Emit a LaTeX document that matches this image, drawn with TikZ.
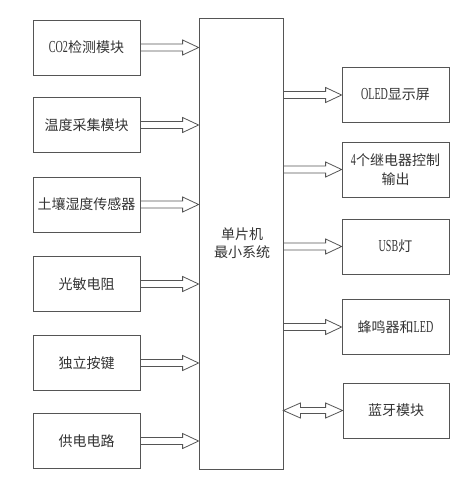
\documentclass[tikz,border=0pt]{standalone}
\usepackage{fontspec}
\setmainfont{Noto Sans CJK SC}
\newfontfamily\lat[FakeStretch=0.6,Scale=1.2]{Liberation Serif}
\usetikzlibrary{calc}
\definecolor{linec}{HTML}{555555}
\definecolor{textc}{HTML}{333333}
\tikzset{
  box/.style={draw=linec, line width=0.8pt, minimum width=107pt, minimum height=55pt,
    inner sep=0pt, align=center, text=textc, font=\fontsize{14}{19}\selectfont},
  arrline/.style={draw=linec, line width=0.8pt, line join=miter}
}
\newcommand\harr[2]{%
  \coordinate (hs) at #1; \coordinate (he) at #2;
  \draw[arrline] ($(hs)+(0,3.5)$) -- ($(he)+(-16,3.5)$) -- ($(he)+(-16,7.5)$) -- (he)
    -- ($(he)+(-16,-7.5)$) -- ($(he)+(-16,-3.5)$) -- ($(hs)+(0,-3.5)$);}
\newcommand\barr[2]{%
  \coordinate (hs) at #1; \coordinate (he) at #2;
  \draw[arrline] ($(hs)+(17,3)$) -- ($(he)+(-17,3)$) -- ($(he)+(-17,7.5)$) -- (he)
    -- ($(he)+(-17,-7.5)$) -- ($(he)+(-17,-3)$) -- ($(hs)+(17,-3)$)
    -- ($(hs)+(17,-7.5)$) -- (hs) -- ($(hs)+(17,7.5)$) -- cycle;}
\begin{document}
\begin{tikzpicture}[x=1pt,y=-1pt]
\useasboundingbox[fill=white] (0,0) rectangle (474,482);
% left column
\node[box] (l1) at (86.5,47.5) {{\lat CO2}检测模块};
\node[box] (l2) at (86.5,125) {温度采集模块};
\node[box] (l3) at (86.5,204.5) {土壤湿度传感器};
\node[box] (l4) at (86.5,284) {光敏电阻};
\node[box] (l5) at (86.5,363) {独立按键};
\node[box] (l6) at (86.5,441) {供电电路};
% centre
\node[box, minimum width=84pt, minimum height=451pt] (m) at (241,243.5) {};
\node[align=center, text=textc, font=\fontsize{14}{18}\selectfont, inner sep=0pt] (mt) at (242,243) {单片机\\最小系统};
% right column
\node[box] (r1) at (395.5,95) {{\lat OLED}显示屏};
\node[box] (r2) at (395.5,169.5) {{\lat 4}个继电器控制\\输出};
\node[box] (r3) at (395.5,246.5) {{\lat USB}灯};
\node[box] (r4) at (395.5,327) {蜂鸣器和{\lat LED}};
\node[box, minimum width=106pt] (r5) at (396,410.5) {蓝牙模块};
% arrows
\harr{(l1.east)}{(m.west |- l1.east)}
\harr{(l2.east)}{(m.west |- l2.east)}
\harr{(l3.east)}{(m.west |- l3.east)}
\harr{(l4.east)}{(m.west |- l4.east)}
\harr{(l5.east)}{(m.west |- l5.east)}
\harr{(l6.east)}{(m.west |- l6.east)}
\harr{(m.east |- r1.west)}{(r1.west)}
\harr{(m.east |- r2.west)}{(r2.west)}
\harr{(m.east |- r3.west)}{(r3.west)}
\harr{(m.east |- r4.west)}{(r4.west)}
\barr{(m.east |- r5.west)}{(r5.west)}
\end{tikzpicture}
\end{document}
